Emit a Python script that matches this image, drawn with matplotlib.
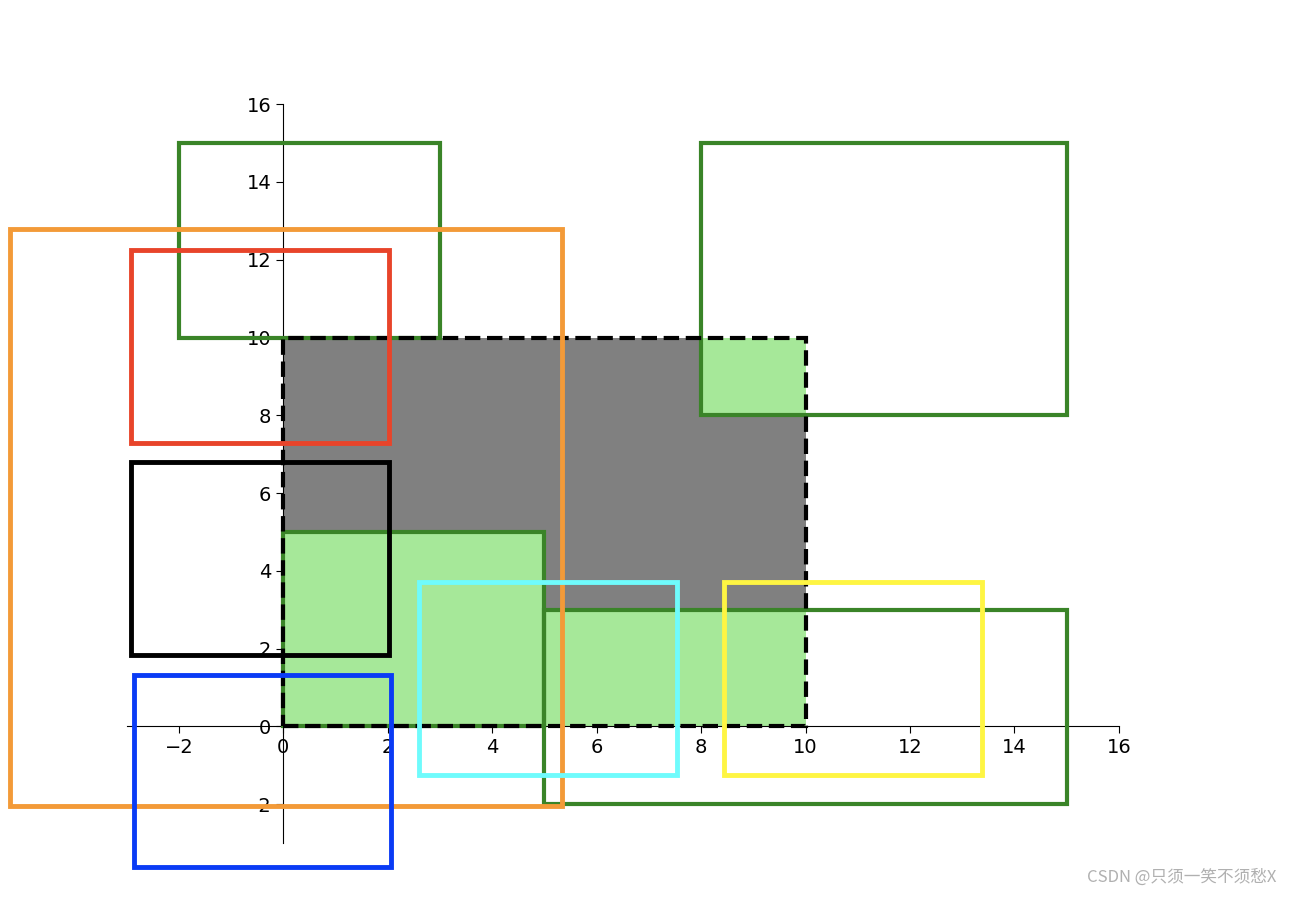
import matplotlib
matplotlib.use("Agg")
import matplotlib.pyplot as plt
from matplotlib.patches import Rectangle

# (x0, y0, x1, y1)
gray_rect = (0, 0, 10, 10)
green_rects = [(-2, 10, 3, 15), (8, 8, 15, 15), (0, 0, 5, 5), (5, -2, 15, 3)]
fill_rects = [(0, 0, 5, 5), (5, 0, 10, 3), (8, 8, 10, 10)]
color_rects = [(-5.24, -2.06, 5.34, 12.78), (-2.92, 7.30, 2.02, 12.24),
               (-2.92, 1.83, 2.02, 6.79), (-2.86, -3.62, 2.07, 1.31),
               (2.59, -1.26, 7.54, 3.70), (8.43, -1.26, 13.38, 3.70)]
color_list = ['#f39a38', '#e8442a', 'black', '#0a3bf5', '#6ffbfc', '#fef543']
ticks = [-2, 0, 2, 4, 6, 8, 10, 12, 14, 16]

fig = plt.figure(figsize=(12.92, 9.06), dpi=100)
ax = fig.add_axes([0.098, 0.0695, 0.768, 0.8155])
ax.set_xlim(-3, 16); ax.set_ylim(-3, 16)
for s in ['top', 'right']:
    ax.spines[s].set_visible(False)
ax.spines['left'].set_position(('data', 0))
ax.spines['bottom'].set_position(('data', 0))
ax.set_xticks(ticks); ax.set_yticks(ticks)
ax.tick_params(labelsize=14, length=5)

def R(r, **kw):
    return Rectangle((r[0], r[1]), r[2]-r[0], r[3]-r[1], **kw)

ax.add_patch(R(gray_rect, facecolor='gray', edgecolor='none', zorder=1))
for r in fill_rects:
    ax.add_patch(R(r, facecolor='#a6e899', edgecolor='none', zorder=2))
for r in green_rects:
    ax.add_patch(R(r, fill=False, edgecolor='#3a8428', lw=3, zorder=3))
ax.add_patch(R(gray_rect, fill=False, edgecolor='black', lw=3, ls='--', zorder=4))
for r, c in zip(color_rects, color_list):
    ax.add_patch(R(r, fill=False, edgecolor=c, lw=3.5, zorder=5, clip_on=False))

fig.text(0.988, 0.022, 'CSDN @只须一笑不须愁X', ha='right', va='bottom', fontsize=12,
         color='#b0b0b0', family=['Noto Sans CJK SC', 'DejaVu Sans'])
fig.savefig('out.png', dpi=100)
